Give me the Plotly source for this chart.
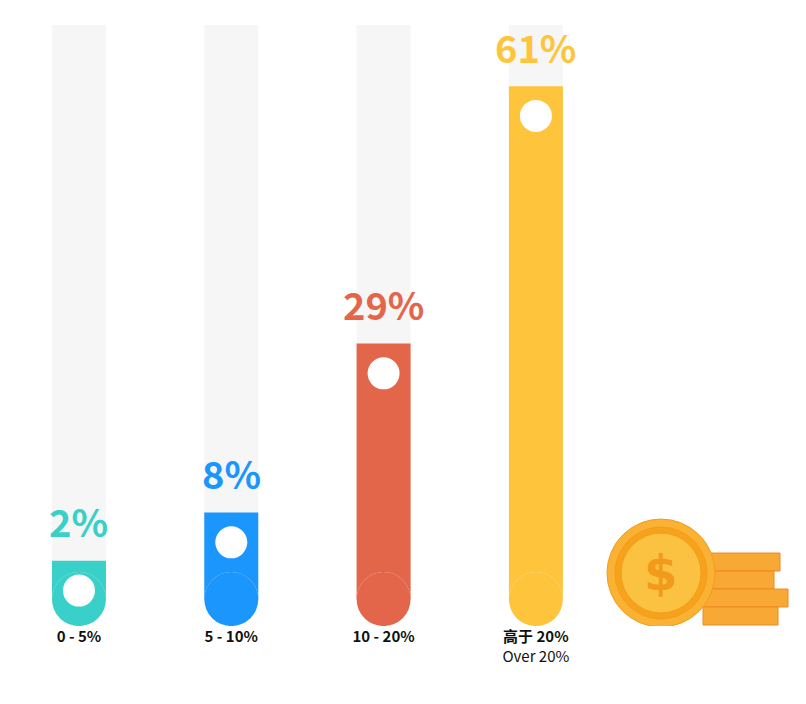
import plotly.graph_objects as go

categories = ["0 - 5%", "5 - 10%", "10 - 20%", "高于 20%<br><span style='font-weight:normal'>Over 20%</span>"]
values = [2, 8, 29, 61]
colors = ["#38d0c9", "#1b96fd", "#e4664a", "#fec53c"]

x = list(range(len(values)))
base = -2.75      # where the rounded bottom cap sits
track_top = 68.6
w = 0.3546

fig = go.Figure()
# grey tracks
fig.add_bar(x=x, y=[track_top - base] * 4, base=base, width=w,
            marker=dict(color="#f6f6f6", line_width=0), hoverinfo="skip")
fig.add_scatter(x=x, y=[base] * 4, mode="markers", hoverinfo="skip",
                marker=dict(size=54, color="#f6f6f6", line_width=0))
# coloured bars
fig.add_bar(x=x, y=[v - base for v in values], base=base, width=w,
            marker=dict(color=colors, line_width=0))
fig.add_scatter(x=x, y=[base] * 4, mode="markers", hoverinfo="skip",
                marker=dict(size=54, color=colors, line_width=0))
# white knobs
fig.add_scatter(x=x, y=[v - 3.7 for v in values], mode="markers", hoverinfo="skip",
                marker=dict(size=32, color="white", line_width=0))

for xi, v, c in zip(x, values, colors):
    fig.add_annotation(x=xi, y=v, text=f"<b>{v}%</b>", showarrow=False, yshift=40,
                       font=dict(size=38, color=c, family="Noto Sans CJK SC"))

# coin decoration
for y0 in [545, 563, 581, 599]:
    fig.add_shape(type="rect", xref="paper", yref="paper", x0=695 / 806, x1=772 / 806,
                  y0=1 - (y0 + 18) / 601 - 0, y1=1 - y0 / 601,
                  fillcolor="#f59b2a", line=dict(color="#f0831a", width=1), layer="above")
fig.update_shapes(y0=None)
shapes = []
for y0, x1 in [(545, 772), (563, 766), (581, 780), (599, 770)]:
    shapes.append(dict(type="rect", xref="x", yref="y",
                       x0=(695 - 71) / 152.3, x1=(x1 - 71) / 152.3,
                       y0=-6.1 + (618 - y0 - 18) / 8.05, y1=-6.1 + (618 - y0) / 8.05,
                       fillcolor="#f8a834", line=dict(color="#ef8a1f", width=1)))
cx, cy = (653 - 71) / 152.3, -6.1 + (618 - 565) / 8.05
for r, col in [(54, "#f9b233"), (46, "#f7a21b"), (40, "#fbc241")]:
    shapes.append(dict(type="circle", xref="x", yref="y",
                       x0=cx - r / 152.3, x1=cx + r / 152.3,
                       y0=cy - r / 8.05, y1=cy + r / 8.05,
                       fillcolor=col, line=dict(color="#f39c1e", width=1)))
fig.layout.shapes = []
fig.update_layout(shapes=[dict(s, layer="above") for s in shapes])
fig.add_annotation(x=cx, y=cy, text="<b>$</b>", showarrow=False,
                   font=dict(size=48, color="#f29a1c", family="DejaVu Sans"))

fig.update_layout(
    width=806, height=704, showlegend=False, barmode="overlay",
    margin=dict(l=0, r=0, t=17, b=86),
    paper_bgcolor="white", plot_bgcolor="white",
    font=dict(family="Noto Sans CJK SC", color="#111111"),
    xaxis=dict(range=[-0.466, 4.826], tickvals=x,
               ticktext=[f"<b>{c}</b>" for c in categories],
               tickfont=dict(size=15), showgrid=False, zeroline=False, ticklen=0),
    yaxis=dict(range=[-6.1, 68.6], visible=False),
)
fig.write_html("out.html")
